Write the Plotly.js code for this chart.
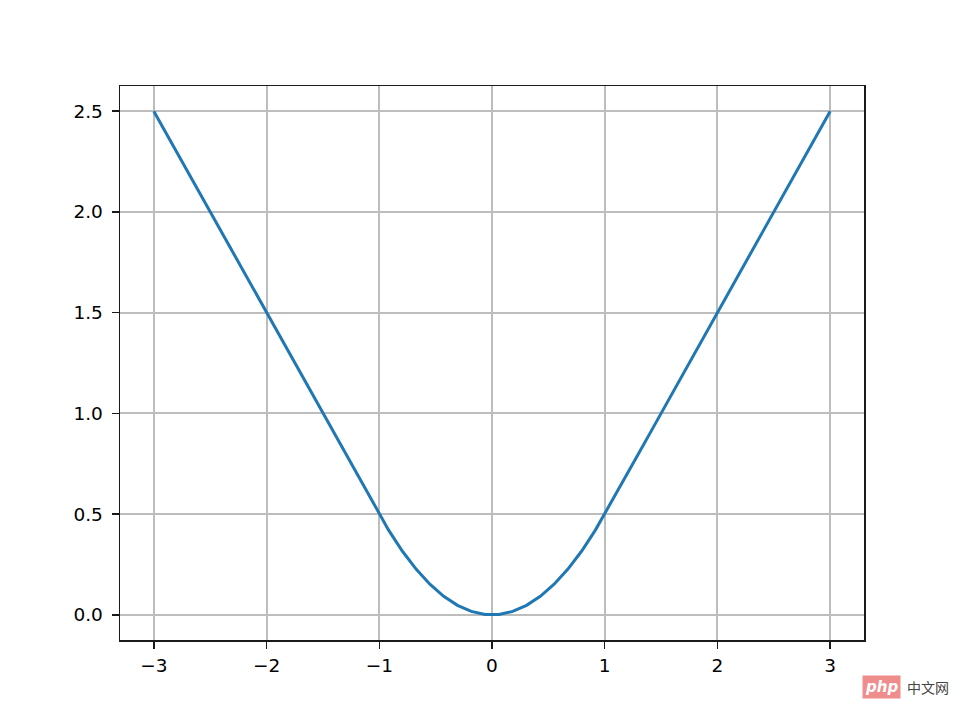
<!DOCTYPE html>
<html><head><meta charset="utf-8">
<script src="https://cdn.plot.ly/plotly-3.0.1.min.js"></script>
<style>body{margin:0;background:#fff}#c{width:960px;height:720px}</style>
</head><body><div id="c"></div>
<script>
const xs = [-3.0000,-2.8776,-2.7551,-2.6327,-2.5102,-2.3878,-2.2653,-2.1429,-2.0204,-1.8980,
 -1.7755,-1.6531,-1.5306,-1.4082,-1.2857,-1.1633,-1.0408,-0.9184,-0.7959,-0.6735,
 -0.5510,-0.4286,-0.3061,-0.1837,-0.0612,0.0612,0.1837,0.3061,0.4286,0.5510,
 0.6735,0.7959,0.9184,1.0408,1.1633,1.2857,1.4082,1.5306,1.6531,1.7755,
 1.8980,2.0204,2.1429,2.2653,2.3878,2.5102,2.6327,2.7551,2.8776,3.0000];
const ys = [2.5000,2.3776,2.2551,2.1327,2.0102,1.8878,1.7653,1.6429,1.5204,1.3980,
 1.2755,1.1531,1.0306,0.9082,0.7857,0.6633,0.5408,0.4217,0.3167,0.2268,
 0.1518,0.0918,0.0469,0.0169,0.0019,0.0019,0.0169,0.0469,0.0918,0.1518,
 0.2268,0.3167,0.4217,0.5408,0.6633,0.7857,0.9082,1.0306,1.1531,1.2755,
 1.3980,1.5204,1.6429,1.7653,1.8878,2.0102,2.1327,2.2551,2.3776,2.5000];
const xTicks = [-3,-2,-1,0,1,2,3];
const yTicks = [0,0.5,1,1.5,2,2.5];

const axisCommon = {
  showline:true, linecolor:'#1a1a1a', linewidth:1.5, mirror:true,
  ticks:'outside', ticklen:7, tickwidth:1.5, tickcolor:'#1a1a1a',
  showgrid:true, gridcolor:'#bdbdbd', gridwidth:2, zeroline:false,
  tickfont:{family:'DejaVu Sans', size:18.5, color:'#000'}
};
Plotly.newPlot('c', [{
  x: xs, y: ys, type:'scatter', mode:'lines',
  line:{color:'#1f77b4', width:3}
}], {
  width:960, height:720,
  margin:{l:120, r:96, t:86, b:80},
  paper_bgcolor:'#fff', plot_bgcolor:'#fff',
  showlegend:false,
  xaxis: Object.assign({}, axisCommon, {range:[-3.3,3.3], tickmode:'array', tickvals:xTicks, ticktext:xTicks.map(v=>v<0?'\u2212'+Math.abs(v):String(v)), ticklabelstandoff:1}),
  yaxis: Object.assign({}, axisCommon, {range:[-0.125,2.625], tickmode:'array', tickvals:yTicks, ticktext:yTicks.map(v=>v.toFixed(1)), ticklabelstandoff:5}),
  annotations:[
    {xref:'paper', yref:'paper', x:1.023, y:-0.085, xanchor:'center', yanchor:'middle', text:'<i><b>php</b></i>', showarrow:false,
     font:{family:'DejaVu Sans', size:15, color:'#fff'}, bgcolor:'#ef8c8c', borderpad:2},
    {xref:'paper', yref:'paper', x:1.086, y:-0.085, xanchor:'center', yanchor:'middle', text:'中文网', showarrow:false,
     font:{family:'Noto Sans CJK SC', size:14, color:'#444'}}
  ]
}, {displayModeBar:false, staticPlot:true});
</script></body></html>
